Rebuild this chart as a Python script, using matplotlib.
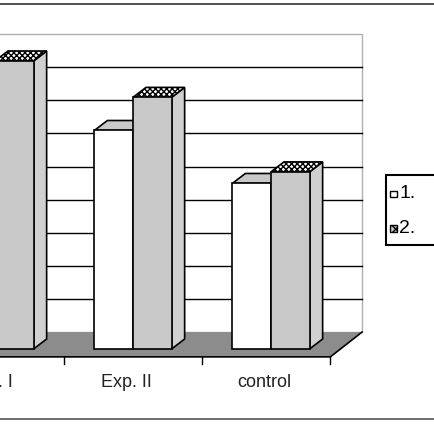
import matplotlib.pyplot as plt
from matplotlib.patches import Rectangle, Polygon
from matplotlib.lines import Line2D

categories = ['Exp. I', 'Exp. II', 'control']
series1 = [7.4, 6.6, 5.0]
series2 = [8.7, 7.6, 5.35]
legend_labels = ['1.', '2.']

fig = plt.figure(figsize=(4.34, 4.34), dpi=100)
ax = fig.add_axes([0, 0, 1, 1])
ax.set_xlim(0.036, 3.181)
ax.set_ylim(-2.57, 10.54)
ax.axis('off')

w, dx, dy = 0.28, 0.094, 0.30
wall_r, base = 2.66, 0.51

# back wall + gridlines
ax.add_patch(Rectangle((-0.5, base), wall_r + 0.5, 9, facecolor='white', edgecolor='#b0b0b0', lw=1, zorder=0))
for k in range(1, 9):
    ax.plot([-0.5, wall_r], [base + k, base + k], color='black', lw=1, zorder=1)
# floor
ax.add_patch(Polygon([(-0.5, -0.24), (2.43, -0.24), (wall_r, base), (-0.5, base)],
                     closed=True, facecolor='#8c8c8c', edgecolor='none', zorder=1))
ax.plot([-0.5, 2.43, wall_r], [-0.24, -0.24, base], color='black', lw=1.2, zorder=2)
for x in [0.5, 1.5, 2.43]:
    ax.plot([x, x], [-0.24, -0.45], color='black', lw=1, zorder=2)

def bar3d(x0, h, face, top, hatch=None):
    ax.add_patch(Rectangle((x0, 0), w, h, facecolor=face, edgecolor='black', lw=1.2, zorder=4))
    ax.add_patch(Polygon([(x0 + w, 0), (x0 + w + dx, dy), (x0 + w + dx, h + dy), (x0 + w, h)],
                         closed=True, facecolor='#d0d0d0', edgecolor='black', lw=1.2, zorder=3))
    ax.add_patch(Polygon([(x0, h), (x0 + dx, h + dy), (x0 + w + dx, h + dy), (x0 + w, h)],
                         closed=True, facecolor=top, edgecolor='black', lw=1.2, hatch=hatch, zorder=3))

clip = Rectangle((0.07, -2.5), 3.2, 13, transform=ax.transData)
for i, cat in enumerate(categories):
    bar3d(i - w, series1[i], 'white', '#c8c8c8')
    bar3d(i, series2[i], '#c8c8c8', 'white', hatch='xxxxxx')
    t = ax.text(i - 0.04 if i == 0 else i - 0.05, -1.0, cat, ha='center', va='center',
                fontsize=13, color='#222222', family='Liberation Sans')
    if i == 0:
        t.set_clip_path(clip)

# legend (cropped at right)
ax.add_patch(Rectangle((2.83, 3.14), 0.45, 2.12, facecolor='white', edgecolor='black', lw=1.5, zorder=5,
                       clip_on=False))
ax.add_patch(Rectangle((2.865, 4.58), 0.045, 0.2, facecolor='white', edgecolor='black', lw=1, zorder=6))
ax.add_patch(Rectangle((2.865, 3.53), 0.045, 0.2, facecolor='#c8c8c8', edgecolor='black', lw=1,
                       hatch='xxxx', zorder=6))
ax.text(2.93, 4.68, legend_labels[0], va='center', fontsize=14, zorder=6, family='Liberation Sans')
ax.text(2.93, 3.63, legend_labels[1], va='center', fontsize=14, zorder=6, family='Liberation Sans')

fig.add_artist(Line2D([0, 1], [1 - 4 / 434, 1 - 4 / 434], color='#333333', lw=1.2))
fig.add_artist(Line2D([0, 1], [1 - 419 / 434, 1 - 419 / 434], color='#555555', lw=1.2))

fig.savefig('out.png', dpi=100)
